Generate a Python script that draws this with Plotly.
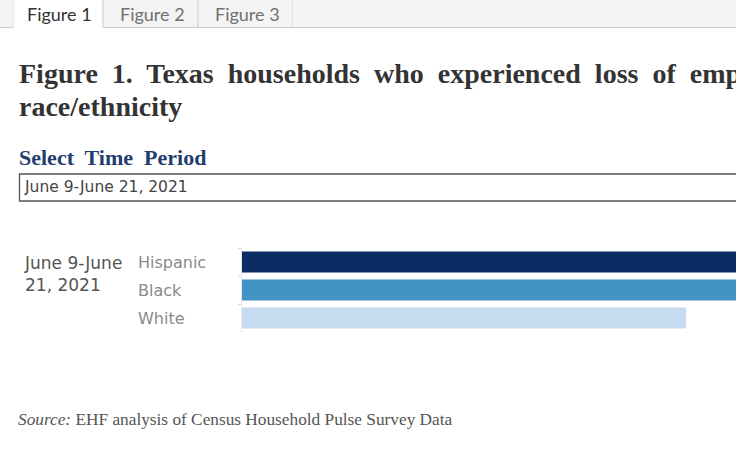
import plotly.graph_objects as go

W, H = 736, 454

# ---- data ----
categories = ["Hispanic", "Black", "White"]
values = [27.5, 27.0, 20.0]          # percent of households
bar_colors = ["#0b2d66", "#4393c5", "#c6dbef"]
period_label = "June 9-June 21, 2021"
row_header = "June 9-June<br>21, 2021"
tabs = ["Figure 1", "Figure 2", "Figure 3"]
title_line1 = "Figure  1.  Texas  households  who  experienced  loss  of  employment  income  by"
title_line2 = "race/ethnicity"
filter_title = "Select  Time  Period"
source_text = "<i>Source:</i> EHF analysis of Census Household Pulse Survey Data"
x_max = 22.25


def px(x):
    return x / W


def py(y):
    return 1 - y / H


fig = go.Figure()
fig.add_trace(go.Bar(
    x=values, y=categories, orientation="h",
    marker=dict(color=bar_colors, line=dict(width=0)),
    width=0.75, hoverinfo="skip", showlegend=False,
))

shapes = []
# tab strip
tab_edges = [13, 103, 198, 293]
for i in range(3):
    fill = "#ffffff" if i == 0 else "#f4f4f4"
    shapes.append(dict(type="rect", xref="paper", yref="paper",
                       x0=px(tab_edges[i]), x1=px(tab_edges[i + 1]), y0=py(27.5), y1=py(-4),
                       fillcolor=fill, line=dict(color="#d2d2d2", width=1), layer="below"))
shapes.append(dict(type="rect", xref="paper", yref="paper", x0=px(0), x1=px(13), y0=py(27.5), y1=py(-4),
                   fillcolor="#f4f4f4", line=dict(width=0), layer="below"))
shapes.append(dict(type="rect", xref="paper", yref="paper", x0=px(293), x1=1, y0=py(27.5), y1=py(-4),
                   fillcolor="#f4f4f4", line=dict(width=0), layer="below"))
# bottom line of tab strip (except under active tab)
shapes.append(dict(type="line", xref="paper", yref="paper", x0=px(0), x1=px(13), y0=py(27.5), y1=py(27.5),
                   line=dict(color="#cfcfcf", width=1)))
shapes.append(dict(type="line", xref="paper", yref="paper", x0=px(103), x1=1, y0=py(27.5), y1=py(27.5),
                   line=dict(color="#cfcfcf", width=1)))
shapes.append(dict(type="line", xref="paper", yref="paper", x0=px(13.5), x1=px(102.5), y0=py(27.5), y1=py(27.5),
                   line=dict(color="#ffffff", width=1.5)))
# dropdown box
shapes.append(dict(type="rect", xref="paper", yref="paper", x0=px(19.5), x1=px(760), y0=py(201), y1=py(174),
                   fillcolor="#ffffff", line=dict(color="#555555", width=1.3), layer="below"))

annotations = []
tab_centers = [59, 152, 247]
for i, t in enumerate(tabs):
    annotations.append(dict(text=t, xref="paper", yref="paper", x=px(tab_centers[i]), y=py(14),
                            xanchor="center", yanchor="middle", showarrow=False,
                            font=dict(family="Lato", size=18, color="#333333" if i == 0 else "#707070")))
annotations.append(dict(text="<b>" + title_line1 + "</b>", xref="paper", yref="paper", x=px(17), y=py(74),
                        xanchor="left", yanchor="middle", showarrow=False,
                        font=dict(family="Liberation Serif", size=28, color="#333333")))
annotations.append(dict(text="<b>" + title_line2 + "</b>", xref="paper", yref="paper", x=px(17), y=py(107),
                        xanchor="left", yanchor="middle", showarrow=False,
                        font=dict(family="Liberation Serif", size=28, color="#333333")))
annotations.append(dict(text="<b>" + filter_title + "</b>", xref="paper", yref="paper", x=px(17), y=py(157),
                        xanchor="left", yanchor="middle", showarrow=False,
                        font=dict(family="Liberation Serif", size=22, color="#1f3d6e")))
annotations.append(dict(text=period_label, xref="paper", yref="paper", x=px(22), y=py(187),
                        xanchor="left", yanchor="middle", showarrow=False,
                        font=dict(family="DejaVu Sans", size=15.5, color="#444444")))
annotations.append(dict(text=row_header, xref="paper", yref="paper", x=px(22), y=py(274),
                        xanchor="left", yanchor="middle", showarrow=False, align="left",
                        font=dict(family="DejaVu Sans", size=17, color="#555555")))
for c in categories:
    annotations.append(dict(text=c, xref="paper", yref="y", x=px(136), y=c,
                            xanchor="left", yanchor="middle", showarrow=False,
                            font=dict(family="DejaVu Sans", size=16, color="#8a8a8a")))
annotations.append(dict(text=source_text, xref="paper", yref="paper", x=px(16), y=py(419),
                        xanchor="left", yanchor="middle", showarrow=False,
                        font=dict(family="Liberation Serif", size=17.3, color="#555555")))

fig.update_layout(
    width=W, height=H,
    margin=dict(l=0, r=0, t=0, b=0),
    paper_bgcolor="#ffffff", plot_bgcolor="#ffffff",
    shapes=shapes, annotations=annotations,
    bargap=0.25,
    xaxis=dict(domain=[px(242), 1], range=[0, x_max], showgrid=False, zeroline=False,
               showticklabels=False, showline=False, ticks=""),
    yaxis=dict(domain=[py(332), py(248)], categoryorder="array", categoryarray=categories,
               autorange="reversed", showgrid=False, zeroline=False, showticklabels=False,
               showline=True, linecolor="#e6e6e6", linewidth=1,
               ticks="outside", ticklen=3, tickcolor="#dddddd", tickson="boundaries"),
    hovermode=False,
)

fig.write_html("out.html", config={"displayModeBar": False},
               post_script="document.body.style.margin='0';document.body.style.overflow='hidden';")
